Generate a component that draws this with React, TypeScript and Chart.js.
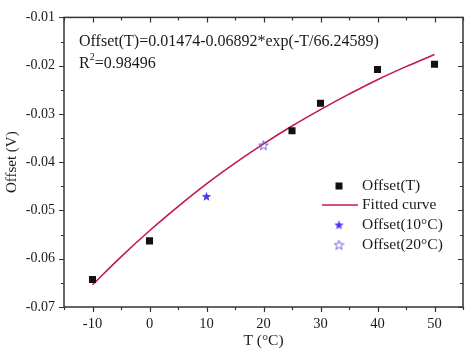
import React, { useEffect, useRef } from "react";
import { Chart, registerables } from "chart.js";
Chart.register(...registerables);

// ---- data ----
const measT = [-10, 0, 25, 30, 40, 50];
const measOffset = [-0.0643, -0.0563, -0.0335, -0.0278, -0.0208, -0.0197];
const t10 = [10];
const off10 = [-0.0471];
const t20 = [20];
const off20 = [-0.0365];
const fitT = [-10, -5, 0, 5, 10, 15, 20, 25, 30, 35, 40, 45, 50];
const fitOffset = [-0.0654, -0.0596, -0.0542, -0.0492, -0.0445, -0.0402, -0.0362, -0.0325, -0.0291, -0.0259, -0.0229, -0.0202, -0.0177];
const xMajorTicks = [-10, 0, 10, 20, 30, 40, 50];
const xMinorTicks = [-15, -5, 5, 15, 25, 35, 45, 55];
const yMajorTicks = [-0.07, -0.06, -0.05, -0.04, -0.03, -0.02, -0.01];
const yMinorTicks = [-0.065, -0.055, -0.045, -0.035, -0.025, -0.015];
const legendLabels = ["Offset(T)", "Fitted curve", "Offset(10°C)", "Offset(20°C)"];
const equationText = "Offset(T)=0.01474-0.06892*exp(-T/66.24589)";
const r2Value = "=0.98496";
const xTitle = "T (°C)";
const yTitle = "Offset (V)";

const FONT = "'Liberation Serif', 'Times New Roman', serif";
const CURVE = "#c2184e";
const STAR_BLUE = "#4a3cf0";

function makeStar(filled: boolean): HTMLCanvasElement {
  const c = document.createElement("canvas");
  c.width = 11;
  c.height = 11;
  const ctx = c.getContext("2d")!;
  const cx = 5.5, cy = 5.8, R = 5, r = 2.1;
  ctx.beginPath();
  for (let i = 0; i < 10; i++) {
    const a = -Math.PI / 2 + (i * Math.PI) / 5;
    const rad = i % 2 === 0 ? R : r;
    const x = cx + rad * Math.cos(a);
    const y = cy + rad * Math.sin(a);
    if (i === 0) ctx.moveTo(x, y);
    else ctx.lineTo(x, y);
  }
  ctx.closePath();
  if (filled) {
    ctx.fillStyle = STAR_BLUE;
    ctx.fill();
  } else {
    ctx.strokeStyle = "#5a4fe0";
    ctx.lineWidth = 0.9;
    ctx.stroke();
  }
  return c;
}

export default function App() {
  const ref = useRef<HTMLCanvasElement | null>(null);
  useEffect(() => {
    document.body.style.margin = "0";
    const canvas = ref.current!;
    const starFilled = makeStar(true);
    const starOpen = makeStar(false);

    const decor = {
      id: "decor",
      afterDraw(chart: any) {
        const ctx = chart.ctx as CanvasRenderingContext2D;
        const { left, right, top, bottom } = chart.chartArea;
        const xs = chart.scales.x;
        const ys = chart.scales.y;
        ctx.save();
        ctx.strokeStyle = "#333";
        ctx.lineWidth = 1.5;
        ctx.strokeRect(left, top, right - left, bottom - top);
        ctx.lineWidth = 1.2;
        ctx.beginPath();
        for (const v of xMajorTicks) {
          const x = Math.round(xs.getPixelForValue(v)) + 0.5;
          ctx.moveTo(x, bottom); ctx.lineTo(x, bottom + 5);
          ctx.moveTo(x, top); ctx.lineTo(x, top + 5);
        }
        for (const v of xMinorTicks) {
          const x = Math.round(xs.getPixelForValue(v)) + 0.5;
          ctx.moveTo(x, bottom); ctx.lineTo(x, bottom + 3);
          ctx.moveTo(x, top); ctx.lineTo(x, top + 3);
        }
        for (const v of yMajorTicks) {
          const y = Math.round(ys.getPixelForValue(v)) + 0.5;
          ctx.moveTo(left, y); ctx.lineTo(left - 5, y);
          ctx.moveTo(right, y); ctx.lineTo(right - 5, y);
        }
        for (const v of yMinorTicks) {
          const y = Math.round(ys.getPixelForValue(v)) + 0.5;
          ctx.moveTo(left, y); ctx.lineTo(left - 3, y);
          ctx.moveTo(right, y); ctx.lineTo(right - 3, y);
        }
        ctx.stroke();

        // equation
        ctx.fillStyle = "#1a1a1a";
        ctx.textBaseline = "middle";
        ctx.textAlign = "left";
        ctx.font = `16px ${FONT}`;
        ctx.fillText(equationText, left + 15, top + 24);
        ctx.fillText("R", left + 15, top + 46);
        const rw = ctx.measureText("R").width;
        ctx.font = `10px ${FONT}`;
        ctx.fillText("2", left + 15 + rw, top + 40);
        const sw = ctx.measureText("2").width;
        ctx.font = `16px ${FONT}`;
        ctx.fillText(r2Value, left + 15 + rw + sw, top + 46);

        // legend
        const mx = 339, tx = 362;
        const rows = [186, 205, 225, 245];
        ctx.font = `15.5px ${FONT}`;
        ctx.fillStyle = "#111";
        ctx.fillRect(mx - 3.5, rows[0] - 3.5, 7, 7);
        ctx.strokeStyle = CURVE;
        ctx.lineWidth = 1.6;
        ctx.beginPath();
        ctx.moveTo(322, rows[1]);
        ctx.lineTo(358, rows[1]);
        ctx.stroke();
        ctx.drawImage(starFilled, mx - 5.5, rows[2] - 5.5);
        ctx.drawImage(starOpen, mx - 5.5, rows[3] - 5.5);
        ctx.fillStyle = "#1a1a1a";
        legendLabels.forEach((l, i) => ctx.fillText(l, tx, rows[i]));
        ctx.restore();
      },
    };

    const chart = new Chart(canvas, {
      type: "scatter",
      data: {
        datasets: [
          {
            label: legendLabels[1],
            data: fitT.map((t, i) => ({ x: t, y: fitOffset[i] })),
            showLine: true,
            borderColor: CURVE,
            borderWidth: 1.6,
            pointRadius: 0,
            tension: 0.4,
            order: 2,
          },
          {
            label: legendLabels[0],
            data: measT.map((t, i) => ({ x: t, y: measOffset[i] })),
            pointStyle: "rect",
            pointRadius: 5,
            backgroundColor: "#111",
            borderColor: "#111",
            borderWidth: 0,
            order: 1,
          },
          {
            label: legendLabels[2],
            data: t10.map((t, i) => ({ x: t, y: off10[i] })),
            pointStyle: starFilled as any,
            order: 1,
          },
          {
            label: legendLabels[3],
            data: t20.map((t, i) => ({ x: t, y: off20[i] })),
            pointStyle: starOpen as any,
            order: 1,
          },
        ],
      },
      options: {
        animation: false,
        responsive: false,
        events: [],
        layout: { padding: { top: 14, right: 11, left: 0, bottom: 0 } },
        plugins: { legend: { display: false }, tooltip: { enabled: false } },
        scales: {
          x: {
            type: "linear",
            min: -15,
            max: 55,
            grid: { display: false, drawTicks: false },
            border: { display: false },
            afterBuildTicks: (s: any) => {
              s.ticks = xMajorTicks.map((v) => ({ value: v }));
            },
            afterFit: (s: any) => {
              s.height = 46;
            },
            ticks: {
              padding: 8,
              color: "#1a1a1a",
              font: { family: FONT, size: 14.5 },
              callback: (v: any) => String(v),
            },
            title: {
              display: true,
              text: xTitle,
              color: "#1a1a1a",
              font: { family: FONT, size: 15.5 },
              padding: { top: 0, bottom: 3 },
            },
          },
          y: {
            type: "linear",
            min: -0.07,
            max: -0.01,
            grid: { display: false, drawTicks: false },
            border: { display: false },
            afterBuildTicks: (s: any) => {
              s.ticks = yMajorTicks.map((v) => ({ value: v }));
            },
            afterFit: (s: any) => {
              s.width = 64;
            },
            ticks: {
              padding: 9,
              color: "#1a1a1a",
              font: { family: FONT, size: 14 },
              callback: (v: any) => Number(v).toFixed(2),
            },
            title: {
              display: true,
              text: yTitle,
              color: "#1a1a1a",
              font: { family: FONT, size: 15 },
              padding: { top: 3, bottom: 0 },
            },
          },
        },
      },
      plugins: [decor],
    });
    return () => chart.destroy();
  }, []);
  return (
    <div style={{ width: 474, height: 353, background: "#fff" }}>
      <canvas ref={ref} width={474} height={353} />
    </div>
  );
}
